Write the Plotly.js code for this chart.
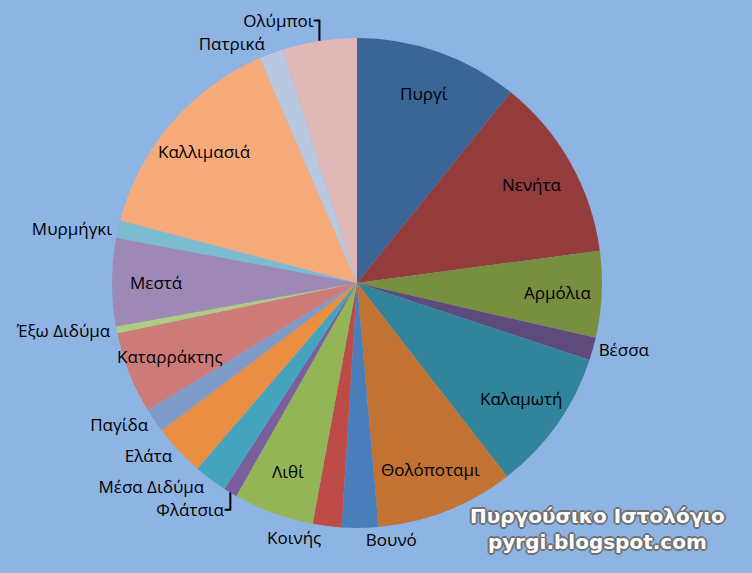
<!DOCTYPE html>
<html>
<head>
<meta charset="utf-8">
<script src="https://cdn.plot.ly/plotly-3.0.1.min.js"></script>
<style>
  html, body { margin: 0; padding: 0; background: #8db4e3; }
  #chart { width: 752px; height: 573px; }
</style>
</head>
<body>
<div id="chart"></div>
<script>
(function () {
  'use strict';

  // Villages, clockwise from 12 o'clock
  var villages = [
    'Πυργί', 'Νενήτα', 'Αρμόλια', 'Βέσσα', 'Καλαμωτή', 'Θολόποταμι',
    'Βουνό', 'Κοινής', 'Λιθί', 'Φλάτσια', 'Μέσα Διδύμα', 'Ελάτα',
    'Παγίδα', 'Καταρράκτης', 'Έξω Διδύμα', 'Μεστά', 'Μυρμήγκι',
    'Καλλιμασιά', 'Πατρικά', 'Ολύμποι'
  ];
  // share of the pie (%)
  var shares = [
    10.8, 12.1, 5.7, 1.5, 9.4, 9.1,
    2.4, 1.9, 5.3, 0.9, 2.2, 3.4,
    1.6, 5.4, 0.45, 5.8, 1.15,
    14.4, 1.6, 4.9
  ];
  // which labels sit inside their slice
  var labelInside = [
    true, true, true, false, true, true,
    false, false, true, false, false, false,
    false, true, false, true, false,
    true, false, false
  ];
  var sliceColors = [
    '#3b6596', '#943b3b', '#778f3f', '#5f4a7c', '#32849a', '#c27333',
    '#4a7ebb', '#bd4b48', '#94b556', '#7a5f9c', '#45a4bd', '#e98e43',
    '#7f9cc8', '#cd7b79', '#b0cc82', '#9d88b6', '#7bbcd0',
    '#f8ab7a', '#b8c8e0', '#e0b8b7'
  ];

  var fontFamily = '"Open Sans", "Noto Sans", sans-serif';
  var W = 752, H = 573;
  var domX = [0.149, 0.8005], domY = [0.0785, 0.934];

  // inside labels: placed like Excel does, about 0.82 of the radius out
  var total = shares.reduce(function (a, b) { return a + b; }, 0);
  var cx = (domX[0] + domX[1]) / 2, cy = (domY[0] + domY[1]) / 2;
  var rPx = Math.min((domX[1] - domX[0]) * W, (domY[1] - domY[0]) * H) / 2;
  var annotations = [];
  var acc = 0;
  shares.forEach(function (v, i) {
    var mid = (acc + v / 2) / total * 2 * Math.PI;
    acc += v;
    if (!labelInside[i]) return;
    var r = rPx * 0.82;
    annotations.push({
      xref: 'paper', yref: 'paper',
      x: cx + r * Math.sin(mid) / W,
      y: cy + r * Math.cos(mid) / H,
      xanchor: 'center', yanchor: 'middle',
      showarrow: false,
      text: villages[i],
      font: { family: fontFamily, size: 17, color: '#000000' }
    });
  });

  // blog watermark
  annotations.push({
    xref: 'paper', yref: 'paper',
    x: 0.794, y: 0.077,
    xanchor: 'center', yanchor: 'middle',
    showarrow: false,
    align: 'center',
    text: '<b>Πυργούσικο Ιστολόγιο</b><br><b>pyrgi.blogspot.com</b>',
    font: {
      family: '"DejaVu Sans", sans-serif', size: 20, color: '#ffffff',
      shadow: '2px 0 0 #707070, -2px 0 0 #707070, 0 2px 0 #707070, 0 -2px 0 #707070, ' +
        '1px 1px 0 #707070, -1px -1px 0 #707070, 1px -1px 0 #707070, -1px 1px 0 #707070'
    }
  });

  Plotly.newPlot('chart', [{
    type: 'pie',
    labels: villages,
    values: shares,
    sort: false,
    direction: 'clockwise',
    rotation: 0,
    marker: { colors: sliceColors, line: { width: 0 } },
    text: villages.map(function (v, i) { return labelInside[i] ? '' : v; }),
    textinfo: 'text',
    textposition: 'outside',
    textfont: { family: fontFamily, size: 17, color: '#000000' },
    automargin: false,
    hoverinfo: 'label+percent',
    domain: { x: domX, y: domY }
  }], {
    width: W,
    height: H,
    margin: { t: 0, r: 0, b: 0, l: 0 },
    paper_bgcolor: '#8db4e3',
    showlegend: false,
    font: { family: fontFamily, size: 17, color: '#000000' },
    annotations: annotations
  }, { displayModeBar: false, staticPlot: true });
})();
</script>
</body>
</html>
